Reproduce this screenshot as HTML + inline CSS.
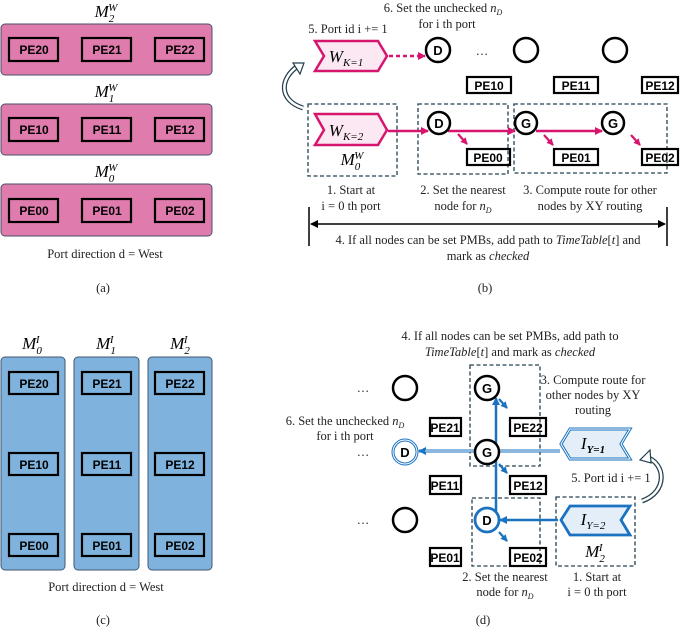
<!DOCTYPE html>
<html><head><meta charset="utf-8"><style>
html,body{margin:0;padding:0;background:#fff;}
svg{display:block;}
.pe{fill:none;stroke:#000;stroke-width:2.2;}
.pt{font-family:"Liberation Sans",sans-serif;font-weight:bold;font-size:12px;text-anchor:middle;}
.t{font-family:"Liberation Serif",serif;font-size:12.5px;text-anchor:middle;fill:#222;}
.m{font-family:"Liberation Serif",serif;font-style:italic;font-size:17px;text-anchor:middle;}
.c{fill:#fff;stroke:#000;stroke-width:2.5;}
.cl{font-family:"Liberation Sans",sans-serif;font-weight:bold;font-size:13px;text-anchor:middle;}
.dash{fill:none;stroke:#24404f;stroke-width:1.3;stroke-dasharray:4,2.5;}
</style></head><body>
<svg width="685" height="629" viewBox="0 0 685 629" xmlns="http://www.w3.org/2000/svg">
<defs>
<marker id="ap" markerWidth="8" markerHeight="8" refX="7" refY="4" orient="auto" markerUnits="userSpaceOnUse"><path d="M0,0L8,4L0,8z" fill="#d6156f"/></marker>
<marker id="aps" markerWidth="7" markerHeight="7" refX="6" refY="3.5" orient="auto" markerUnits="userSpaceOnUse"><path d="M0,0L7,3.5L0,7z" fill="#d6156f"/></marker>
<marker id="ab" markerWidth="8" markerHeight="8" refX="7" refY="4" orient="auto" markerUnits="userSpaceOnUse"><path d="M0,0L8,4L0,8z" fill="#1a72c0"/></marker>
<marker id="abs" markerWidth="7" markerHeight="7" refX="6" refY="3.5" orient="auto" markerUnits="userSpaceOnUse"><path d="M0,0L7,3.5L0,7z" fill="#1a72c0"/></marker>
<marker id="ak" markerWidth="8" markerHeight="8" refX="7" refY="4" orient="auto" markerUnits="userSpaceOnUse"><path d="M0,0L8,4L0,8z" fill="#000"/></marker>
<marker id="ak2" markerWidth="8" markerHeight="8" refX="1" refY="4" orient="auto" markerUnits="userSpaceOnUse"><path d="M8,0L0,4L8,8z" fill="#000"/></marker>
</defs>

<!-- (a) -->
<g>
<text class="m" x="106" y="17">M<tspan font-size="11" dy="5">2</tspan><tspan font-size="11" dy="-11" dx="-6">W</tspan></text>
<rect x="1" y="24" width="211" height="51" rx="4" fill="#e07bad" stroke="#4a4f6a" stroke-width="1"/>
<rect class="pe" x="9" y="38" width="49" height="23"/><text class="pt" x="34" y="54">PE20</text>
<rect class="pe" x="82" y="38" width="49" height="23"/><text class="pt" x="107" y="54">PE21</text>
<rect class="pe" x="155" y="38" width="49" height="23"/><text class="pt" x="180" y="54">PE22</text>
<text class="m" x="106" y="97">M<tspan font-size="11" dy="5">1</tspan><tspan font-size="11" dy="-11" dx="-6">W</tspan></text>
<rect x="1" y="104" width="211" height="51" rx="4" fill="#e07bad" stroke="#4a4f6a" stroke-width="1"/>
<rect class="pe" x="9" y="118" width="49" height="23"/><text class="pt" x="34" y="134">PE10</text>
<rect class="pe" x="82" y="118" width="49" height="23"/><text class="pt" x="107" y="134">PE11</text>
<rect class="pe" x="155" y="118" width="49" height="23"/><text class="pt" x="180" y="134">PE12</text>
<text class="m" x="106" y="177">M<tspan font-size="11" dy="5">0</tspan><tspan font-size="11" dy="-11" dx="-6">W</tspan></text>
<rect x="1" y="184" width="211" height="52" rx="4" fill="#e07bad" stroke="#4a4f6a" stroke-width="1"/>
<rect class="pe" x="9" y="199" width="49" height="23"/><text class="pt" x="34" y="215">PE00</text>
<rect class="pe" x="82" y="199" width="49" height="23"/><text class="pt" x="107" y="215">PE01</text>
<rect class="pe" x="155" y="199" width="49" height="23"/><text class="pt" x="180" y="215">PE02</text>
<text class="t" x="105" y="258">Port direction d = West</text>
<text class="t" x="103" y="292" font-size="14">(a)</text>
</g>

<!-- (c) -->
<g>
<text class="m" x="32" y="349">M<tspan font-size="11" dy="5">0</tspan><tspan font-size="11" dy="-11" dx="-6">I</tspan></text>
<text class="m" x="106" y="349">M<tspan font-size="11" dy="5">1</tspan><tspan font-size="11" dy="-11" dx="-6">I</tspan></text>
<text class="m" x="180" y="349">M<tspan font-size="11" dy="5">2</tspan><tspan font-size="11" dy="-11" dx="-6">I</tspan></text>
<rect x="1" y="357" width="64" height="213" rx="4" fill="#7fb3dd" stroke="#3f5872" stroke-width="1"/>
<rect x="74" y="357" width="65" height="213" rx="4" fill="#7fb3dd" stroke="#3f5872" stroke-width="1"/>
<rect x="148" y="357" width="64" height="213" rx="4" fill="#7fb3dd" stroke="#3f5872" stroke-width="1"/>
<rect class="pe" x="9" y="372" width="49" height="22"/><text class="pt" x="34" y="388">PE20</text>
<rect class="pe" x="82" y="372" width="49" height="22"/><text class="pt" x="107" y="388">PE21</text>
<rect class="pe" x="155" y="372" width="49" height="22"/><text class="pt" x="180" y="388">PE22</text>
<rect class="pe" x="9" y="453" width="49" height="22"/><text class="pt" x="34" y="469">PE10</text>
<rect class="pe" x="82" y="453" width="49" height="22"/><text class="pt" x="107" y="469">PE11</text>
<rect class="pe" x="155" y="453" width="49" height="22"/><text class="pt" x="180" y="469">PE12</text>
<rect class="pe" x="9" y="534" width="49" height="22"/><text class="pt" x="34" y="550">PE00</text>
<rect class="pe" x="82" y="534" width="49" height="22"/><text class="pt" x="107" y="550">PE01</text>
<rect class="pe" x="155" y="534" width="49" height="22"/><text class="pt" x="180" y="550">PE02</text>
<text class="t" x="106" y="591">Port direction d = West</text>
<text class="t" x="103" y="624" font-size="14">(c)</text>
</g>

<!-- (b) -->
<g>
<text class="t" x="443" y="12">6. Set the unchecked <tspan font-style="italic">n</tspan><tspan font-size="8" dy="3" font-style="italic">D</tspan></text>
<text class="t" x="447" y="28">for i th port</text>
<text class="t" x="348" y="33">5. Port id i += 1</text>
<polygon points="315,41 378,41 387,56 378,71 315,71 324,56" fill="#fbe8f3" stroke="#d6156f" stroke-width="2.5"/>
<text class="m" x="346" y="62">W<tspan font-size="11" dy="4">K=1</tspan></text>
<line x1="389" y1="56" x2="425" y2="56" stroke="#d6156f" stroke-width="2.5" stroke-dasharray="4,3" marker-end="url(#ap)"/>
<circle class="c" cx="438" cy="50" r="12"/><text class="cl" x="438" y="55">D</text>
<text class="t" x="482" y="55">…</text>
<circle class="c" cx="526" cy="50" r="12"/>
<circle class="c" cx="615" cy="50" r="12"/>
<rect class="pe" x="467" y="77" width="44" height="16"/><text class="pt" x="489" y="90">PE10</text>
<rect class="pe" x="554" y="77" width="44" height="16"/><text class="pt" x="576" y="90">PE11</text>
<rect class="pe" x="642" y="77" width="36" height="16"/><text class="pt" x="660" y="90">PE12</text>
<path d="M303,108 C278,100 280,78 298,66" fill="none" stroke="#24404f" stroke-width="5"/>
<path d="M303,108 C278,100 280,78 298,66" fill="none" stroke="#fff" stroke-width="2.5"/>
<path d="M293,63 L304,63 L300,74 z" fill="#fff" stroke="#24404f" stroke-width="1.2"/>
<rect class="dash" x="308" y="104" width="89" height="72"/>
<rect class="dash" x="418" y="104" width="90" height="70"/>
<rect class="dash" x="514" y="104" width="153" height="69"/>
<polygon points="315,114 378,114 387,130 378,145 315,145 324,130" fill="#fbe8f3" stroke="#d6156f" stroke-width="2.5"/>
<text class="m" x="346" y="136">W<tspan font-size="11" dy="4">K=2</tspan></text>
<text class="m" x="352" y="165">M<tspan font-size="11" dy="5">0</tspan><tspan font-size="11" dy="-11" dx="-6">W</tspan></text>
<line x1="388" y1="131" x2="428" y2="131" stroke="#d6156f" stroke-width="2.5" marker-end="url(#ap)"/>
<line x1="448" y1="131" x2="515" y2="131" stroke="#d6156f" stroke-width="2.5" marker-end="url(#ap)"/>
<line x1="536" y1="131" x2="602" y2="131" stroke="#d6156f" stroke-width="2.5" marker-end="url(#ap)"/>
<circle class="c" cx="439" cy="123" r="11"/><text class="cl" x="439" y="128">D</text>
<circle class="c" cx="526" cy="123" r="11"/><text class="cl" x="526" y="128">G</text>
<circle class="c" cx="613" cy="123" r="11"/><text class="cl" x="613" y="128">G</text>
<line x1="458" y1="134" x2="467" y2="144" stroke="#d6156f" stroke-width="2.2" marker-end="url(#aps)"/>
<line x1="544" y1="135" x2="553" y2="145" stroke="#d6156f" stroke-width="2.2" marker-end="url(#aps)"/>
<line x1="631" y1="135" x2="640" y2="145" stroke="#d6156f" stroke-width="2.2" marker-end="url(#aps)"/>
<rect class="pe" x="467" y="149" width="43" height="16"/><text class="pt" x="488" y="162">PE00</text>
<rect class="pe" x="554" y="149" width="44" height="16"/><text class="pt" x="576" y="162">PE01</text>
<rect class="pe" x="642" y="149" width="36" height="16"/><text class="pt" x="660" y="162">PE02</text>
<text class="t" x="351" y="194">1. Start at</text>
<text class="t" x="351" y="210">i = 0 th port</text>
<text class="t" x="463" y="194">2. Set the nearest</text>
<text class="t" x="463" y="210">node for <tspan font-style="italic">n</tspan><tspan font-size="8" dy="3" font-style="italic">D</tspan></text>
<text class="t" x="590" y="194">3. Compute route for other</text>
<text class="t" x="590" y="210">nodes by XY routing</text>
<line x1="309" y1="207" x2="309" y2="246" stroke="#000" stroke-width="1.5"/>
<line x1="667" y1="207" x2="667" y2="246" stroke="#000" stroke-width="1.5"/>
<line x1="311" y1="224" x2="665" y2="224" stroke="#000" stroke-width="1.5" marker-start="url(#ak2)" marker-end="url(#ak)"/>
<text class="t" x="488" y="244">4. If all nodes can be set PMBs, add path to <tspan font-style="italic">TimeTable</tspan>[<tspan font-style="italic">t</tspan>] and</text>
<text class="t" x="488" y="260">mark as <tspan font-style="italic">checked</tspan></text>
<text class="t" x="485" y="292" font-size="14">(b)</text>
</g>

<!-- (d) -->
<g>
<text class="t" x="510" y="340">4. If all nodes can be set PMBs, add path to</text>
<text class="t" x="510" y="356"><tspan font-style="italic">TimeTable</tspan>[<tspan font-style="italic">t</tspan>] and mark as <tspan font-style="italic">checked</tspan></text>
<rect class="dash" x="470" y="365" width="70" height="101"/>
<rect class="dash" x="472" y="498" width="68" height="68"/>
<rect class="dash" x="556" y="497" width="79" height="69"/>
<text class="t" x="363" y="392">…</text>
<circle class="c" cx="405" cy="388" r="12"/>
<text class="t" x="593" y="384">3. Compute route for</text>
<text class="t" x="593" y="399">other nodes by XY</text>
<text class="t" x="593" y="414">routing</text>
<rect class="pe" x="430" y="418" width="31" height="18"/><text class="pt" x="445" y="432">PE21</text>
<rect class="pe" x="510" y="418" width="36" height="18"/><text class="pt" x="528" y="432">PE22</text>
<text class="t" x="345" y="425">6. Set the unchecked <tspan font-style="italic">n</tspan><tspan font-size="8" dy="3" font-style="italic">D</tspan></text>
<text class="t" x="345" y="440">for i th port</text>
<text class="t" x="363" y="456">…</text>
<line x1="496" y1="520" x2="496" y2="398" stroke="#1a72c0" stroke-width="2.5" marker-end="url(#ab)"/>
<line x1="499" y1="399" x2="507" y2="408" stroke="#1a72c0" stroke-width="2.2" marker-end="url(#abs)"/>
<line x1="499" y1="464" x2="507" y2="473" stroke="#1a72c0" stroke-width="2.2" marker-end="url(#abs)"/>
<line x1="499" y1="532" x2="507" y2="541" stroke="#1a72c0" stroke-width="2.2" marker-end="url(#abs)"/>
<line x1="560" y1="451" x2="419" y2="451" stroke="#1a72c0" stroke-width="3" marker-end="url(#ab)"/>
<line x1="560" y1="451" x2="425" y2="451" stroke="#fff" stroke-width="1"/>
<line x1="558" y1="520" x2="500" y2="520" stroke="#1a72c0" stroke-width="2.5" marker-end="url(#ab)"/>
<circle class="c" cx="487" cy="388" r="12"/><text class="cl" x="487" y="393">G</text>
<circle class="c" cx="487" cy="452" r="12"/><text class="cl" x="487" y="457">G</text>
<circle cx="405" cy="452" r="12" fill="#fff" stroke="#1a72c0" stroke-width="3"/><circle cx="405" cy="452" r="12" fill="none" stroke="#fff" stroke-width="1"/><text class="cl" x="405" y="457">D</text>
<polygon points="561,444 570,429 630,429 621,444 630,459 570,459" fill="#e3eef8" stroke="#1a72c0" stroke-width="3"/>
<polygon points="561,444 570,429 630,429 621,444 630,459 570,459" fill="none" stroke="#fff" stroke-width="1"/>
<text class="m" x="593" y="449">I<tspan font-size="11" dy="4" font-weight="bold">Y=1</tspan></text>
<rect class="pe" x="430" y="476" width="31" height="18"/><text class="pt" x="445" y="490">PE11</text>
<rect class="pe" x="510" y="476" width="36" height="18"/><text class="pt" x="528" y="490">PE12</text>
<text class="t" x="611" y="482">5. Port id i += 1</text>
<path d="M642,501 C668,492 666,463 646,457" fill="none" stroke="#24404f" stroke-width="5"/>
<path d="M642,501 C668,492 666,463 646,457" fill="none" stroke="#fff" stroke-width="2.5"/>
<path d="M650,450 L640,460 L651,463 z" fill="#fff" stroke="#24404f" stroke-width="1.2"/>
<text class="t" x="363" y="524">…</text>
<circle class="c" cx="405" cy="520" r="12"/>
<circle cx="487" cy="520" r="12" fill="#fff" stroke="#1a72c0" stroke-width="2.8"/><text class="cl" x="487" y="525">D</text>
<polygon points="561,520 570,506 630,506 621,520 630,535 570,535" fill="#e3eef8" stroke="#1a72c0" stroke-width="2.8"/>
<text class="m" x="593" y="525">I<tspan font-size="11" dy="4">Y=2</tspan></text>
<text class="m" x="595" y="557">M<tspan font-size="11" dy="5">2</tspan><tspan font-size="11" dy="-11" dx="-6">I</tspan></text>
<rect class="pe" x="430" y="548" width="31" height="18"/><text class="pt" x="445" y="562">PE01</text>
<rect class="pe" x="510" y="548" width="36" height="18"/><text class="pt" x="528" y="562">PE02</text>
<text class="t" x="505" y="581">2. Set the nearest</text>
<text class="t" x="505" y="596">node for <tspan font-style="italic">n</tspan><tspan font-size="8" dy="3" font-style="italic">D</tspan></text>
<text class="t" x="597" y="581">1. Start at</text>
<text class="t" x="597" y="596">i = 0 th port</text>
<text class="t" x="483" y="624" font-size="14">(d)</text>
</g>
</svg>
</body></html>
